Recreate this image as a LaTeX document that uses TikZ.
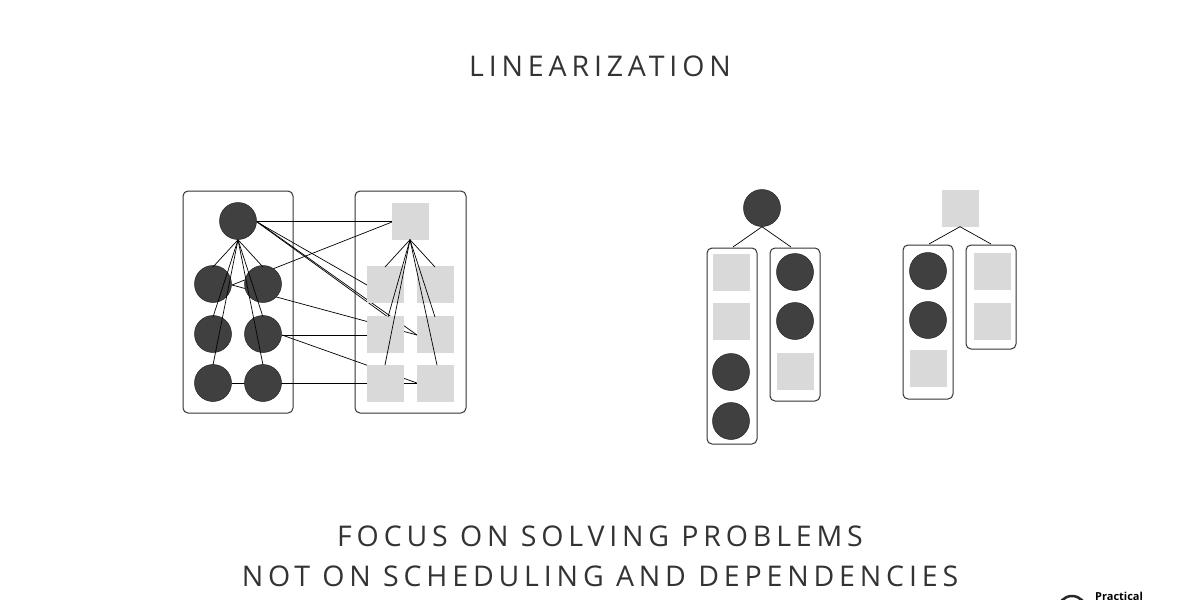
\documentclass[tikz,border=0pt]{standalone}
\usepackage{fontspec}
\setmainfont{Open Sans}[LetterSpace=17]
\begin{document}
\begin{tikzpicture}[x=1pt,y=-1pt,
  cir/.style={circle,fill=black!75,draw=black!85,line width=0.5pt,minimum size=37pt,inner sep=0},
  sq/.style={fill=black!15,minimum size=37pt,inner sep=0},
  box/.style={draw=black!80,line width=1pt,rounded corners=5pt},
  ln/.style={draw=black,line width=0.7pt},
  ttl/.style={text=black!80,font=\fontsize{28.5}{28.5}\selectfont}]
\useasboundingbox (0,0) rectangle (1200,600);
\node[ttl] (t1) at (600,66) {LINEARIZATION};
\node[ttl] (t2) at (600,536) {FOCUS ON SOLVING PROBLEMS};
\node[ttl] (t3) at (600,576) {NOT ON SCHEDULING AND DEPENDENCIES};
% left diagram
\draw[box] (183,191) rectangle (293,413);
\draw[box] (355,191) rectangle (466,413);
\coordinate (c0) at (238,221);
\coordinate (c1) at (213,284); \coordinate (c2) at (263,284);
\coordinate (c3) at (213,334); \coordinate (c4) at (263,334);
\coordinate (c5) at (213,383); \coordinate (c6) at (263,383);
\coordinate (s0) at (410,221);
\coordinate (s1) at (385,284); \coordinate (s2) at (435,284);
\coordinate (s3) at (385,334); \coordinate (s4) at (435,334);
\coordinate (s5) at (385,383); \coordinate (s6) at (435,383);
% cross lines (behind)
\draw[ln] (256,221) -- (392,221);
\draw[ln] (257,222) -- (367,285);
\draw[ln] (257,222) -- (388,317);
\draw[ln] (259,223) -- (417,335);
\draw[ln] (392,222) -- (232,285);
\draw[ln] (232,285) -- (417,335);
\draw[ln] (282,335) -- (367,335);
\draw[ln] (282,335) -- (417,383);
\draw[ln] (232,383) -- (417,383);
\foreach \i in {0,...,6} \node[cir] (C\i) at (c\i) {};
\foreach \i in {0,...,6} \node[sq] (S\i) at (s\i) {};
% tree lines (on top)
\foreach \p in {(213,267),(263,267),(213,317),(263,317),(213,365),(263,365)} \draw[ln] (C0.south) -- \p;
\foreach \p in {(385,267),(435,267),(388,317),(435,317),(385,365),(437,365)} \draw[ln] (S0.south) -- \p;
% right diagram A
\node[cir] (RA) at (762,208) {};
\draw[box] (707,248) rectangle (757,444);
\draw[box] (770,248) rectangle (820,401);
\draw[ln] (RA.south) -- (733,247);
\draw[ln] (RA.south) -- (791,247);
\node[sq] (a1) at (731,272) {};
\node[sq] (a2) at (731,321) {};
\node[cir] (a3) at (731,372) {};
\node[cir] (a4) at (731,421) {};
\node[cir] (b1) at (795,272) {};
\node[cir] (b2) at (795,321) {};
\node[sq] (b3) at (795,371) {};
% right diagram B
\node[sq] (RB) at (960,208) {};
\draw[box] (903,245) rectangle (953,399);
\draw[box] (966,245) rectangle (1016,349);
\draw[ln] (RB.south) -- (929,244);
\draw[ln] (RB.south) -- (991,244);
\node[cir] (d1) at (928,271) {};
\node[cir] (d2) at (928,320) {};
\node[sq] (d3) at (928,368) {};
\node[sq] (e1) at (992,271) {};
\node[sq] (e2) at (992,321) {};
% logo (cut off at the edge, as in the reference)
\begin{scope}
\clip (0,0) rectangle (1200,600);
\draw[line width=2.5pt,black!85] (1072,610) circle (14);
\node[font=\bfseries\fontsize{11}{11}\selectfont,anchor=north west,inner sep=0] (logo) at (1095,592) {\addfontfeature{LetterSpace=0}Practical};
\end{scope}
\end{tikzpicture}
\end{document}
